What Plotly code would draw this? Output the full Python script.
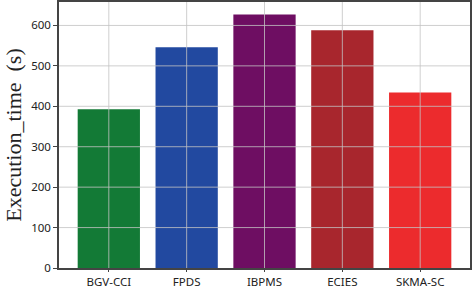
import plotly.graph_objects as go

methods = ["BGV-CCI", "FPDS", "IBPMS", "ECIES", "SKMA-SC"]
exec_time = [393, 546, 627, 588, 434]
colors = ["#137a36", "#2249a0", "#6e0e62", "#a8262d", "#ec2b2d"]
y_ticks = [0, 100, 200, 300, 400, 500, 600]

fig = go.Figure(go.Bar(x=list(range(len(methods))), y=exec_time, width=0.8,
                       marker=dict(color=colors, line=dict(width=0))))

grid_col = "rgba(195,195,195,0.8)"
# gridlines drawn over the bars, as in the reference
for i in range(len(methods)):
    fig.add_shape(type="line", xref="x", yref="paper", x0=i, x1=i, y0=0, y1=1,
                  line=dict(color=grid_col, width=1), layer="above")
for v in y_ticks[1:]:
    fig.add_shape(type="line", xref="paper", yref="y", x0=0, x1=1, y0=v, y1=v,
                  line=dict(color=grid_col, width=1), layer="above")

fig.update_layout(
    width=474, height=289,
    margin=dict(l=59, r=4, t=2, b=21),
    plot_bgcolor="white", paper_bgcolor="white",
    showlegend=False,
    font=dict(family="Noto Sans", size=11, color="#222"),
)
fig.update_xaxes(
    range=[-0.64, 4.64], automargin=False,
    tickmode="array", tickvals=list(range(len(methods))), ticktext=methods,
    tickfont=dict(family="Noto Sans", size=11.5, color="#222"),
    showgrid=False,
    showline=True, linecolor="#444", linewidth=1.5, mirror=True,
    ticks="outside", ticklen=2, tickcolor="#444",
    layer="above traces", zeroline=False,
)
fig.update_yaxes(
    range=[0, 658], automargin=False,
    tickvals=y_ticks,
    tickfont=dict(family="Noto Sans", size=11.5, color="#222"),
    showgrid=False,
    showline=True, linecolor="#444", linewidth=1.5, mirror=True,
    ticks="outside", ticklen=4, tickcolor="#444",
    layer="above traces", zeroline=False,
    title=dict(text="Execution_time  (s)", font=dict(family="Liberation Serif", size=22, color="#222"), standoff=4),
)

fig.write_html("out.html")
